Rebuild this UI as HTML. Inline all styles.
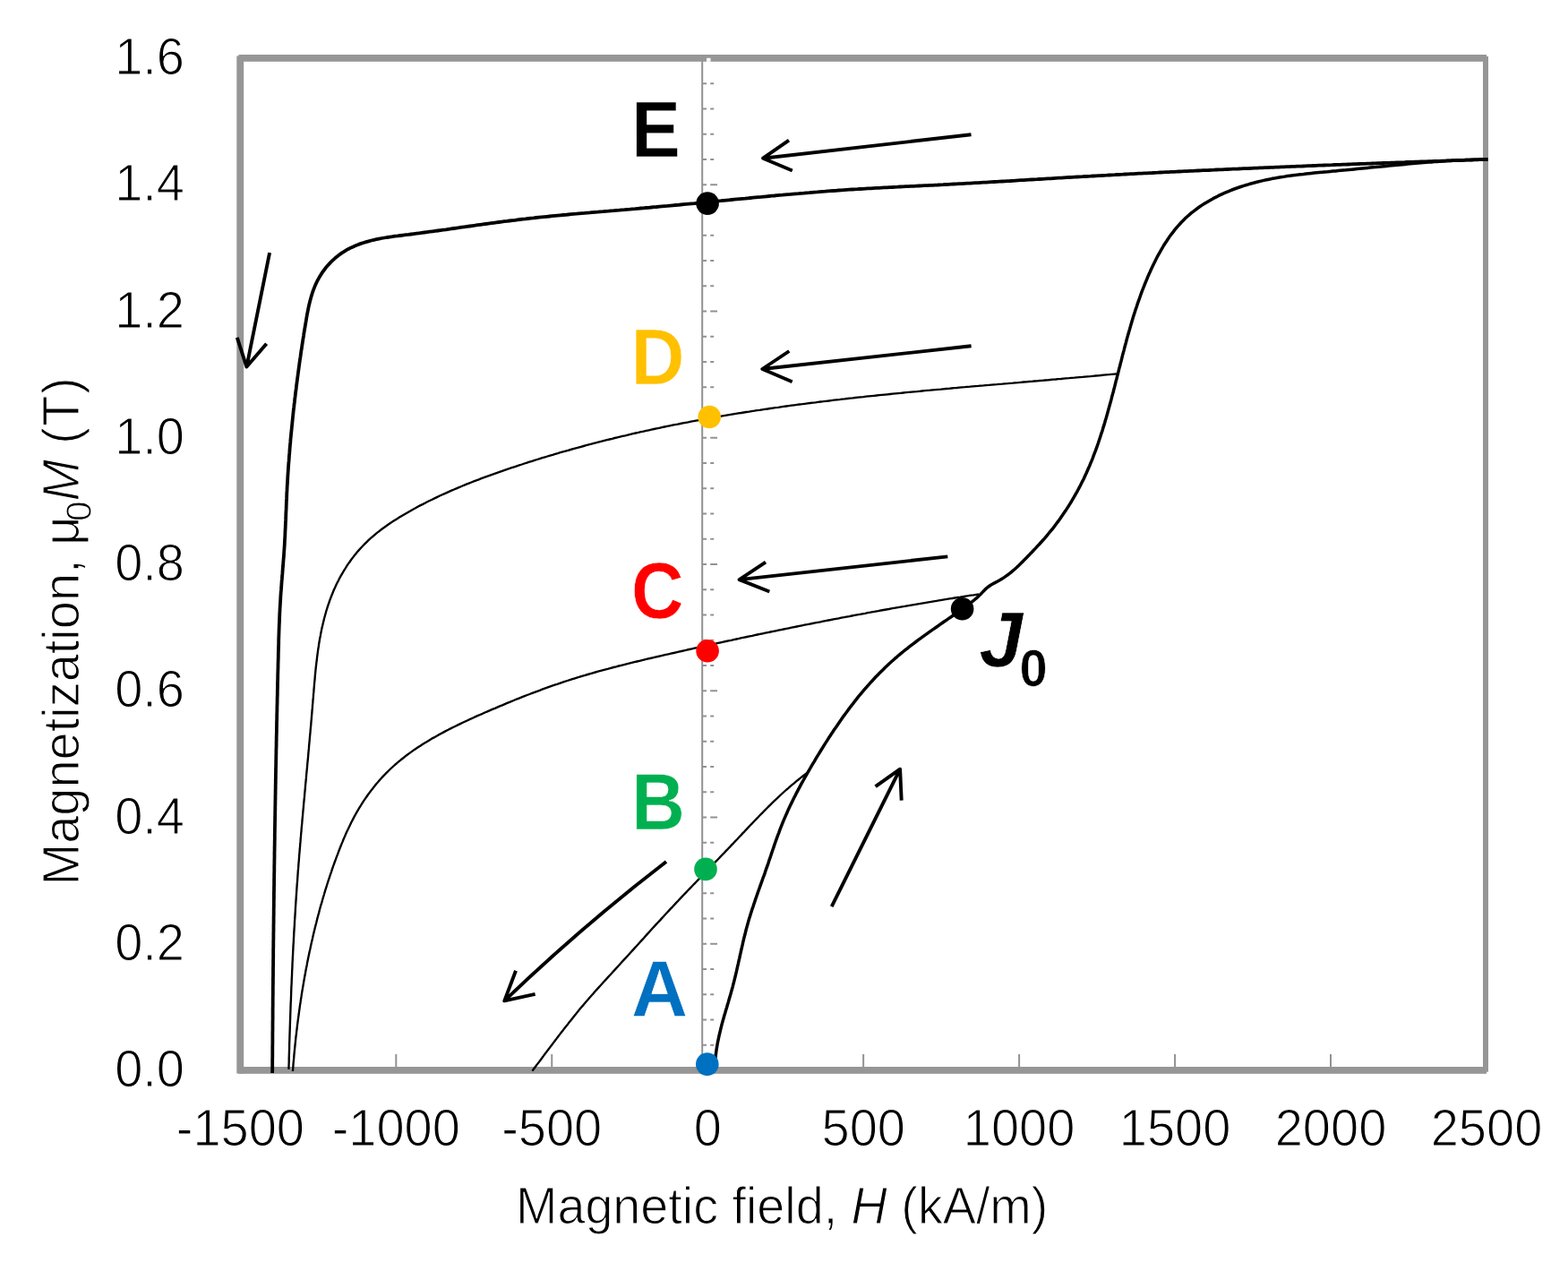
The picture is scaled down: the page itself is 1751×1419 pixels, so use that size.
<!DOCTYPE html>
<html><head><meta charset="utf-8"><title>Magnetization curves</title>
<style>
html,body{margin:0;padding:0;background:#fff;}
body{width:1751px;height:1419px;overflow:hidden;}
svg{display:block;}
text{font-family:"Liberation Sans",Arial,sans-serif;}
.t{stroke:#fff;stroke-width:1.1px;}
.b{stroke:#fff;stroke-width:0.6px;}
</style></head><body>
<svg width="1751" height="1419" viewBox="0 0 1751 1419">
<rect x="0" y="0" width="1751" height="1419" fill="#fff"/>

<line x1="784.2" y1="68" x2="784.2" y2="1191" stroke="#929292" stroke-width="2"/>
<path d="M785,1166.75H789M793.2,1166.75H797.2M785,1138.50H789M793.2,1138.50H797.2M785,1110.25H789M793.2,1110.25H797.2M785,1082.00H789M793.2,1082.00H797.2M785,1053.75H789M793.2,1053.75H801M785,1025.50H789M793.2,1025.50H797.2M785,997.25H789M793.2,997.25H797.2M785,969.00H789M793.2,969.00H797.2M785,940.75H789M793.2,940.75H797.2M785,912.50H789M793.2,912.50H801M785,884.25H789M793.2,884.25H797.2M785,856.00H789M793.2,856.00H797.2M785,827.75H789M793.2,827.75H797.2M785,799.50H789M793.2,799.50H797.2M785,771.25H789M793.2,771.25H801M785,743.00H789M793.2,743.00H797.2M785,714.75H789M793.2,714.75H797.2M785,686.50H789M793.2,686.50H797.2M785,658.25H789M793.2,658.25H797.2M785,630.00H789M793.2,630.00H801M785,601.75H789M793.2,601.75H797.2M785,573.50H789M793.2,573.50H797.2M785,545.25H789M793.2,545.25H797.2M785,517.00H789M793.2,517.00H797.2M785,488.75H789M793.2,488.75H801M785,460.50H789M793.2,460.50H797.2M785,432.25H789M793.2,432.25H797.2M785,404.00H789M793.2,404.00H797.2M785,375.75H789M793.2,375.75H797.2M785,347.50H789M793.2,347.50H801M785,319.25H789M793.2,319.25H797.2M785,291.00H789M793.2,291.00H797.2M785,262.75H789M793.2,262.75H797.2M785,234.50H789M793.2,234.50H797.2M785,206.25H789M793.2,206.25H801M785,178.00H789M793.2,178.00H797.2M785,149.75H789M793.2,149.75H797.2M785,121.50H789M793.2,121.50H797.2M785,93.25H789M793.2,93.25H797.2" stroke="#929292" stroke-width="2" fill="none"/>
<path d="M442.30,1177V1192M616.25,1177V1192M964.15,1177V1192M1138.10,1177V1192M1312.05,1177V1192M1486.00,1177V1192" stroke="#929292" stroke-width="2" fill="none"/>
<rect x="266.5" y="61" width="1393.5" height="7.8" fill="#969696"/>
<rect x="264.3" y="62.5" width="7.9" height="1136" fill="#969696"/>
<rect x="266.5" y="1191" width="1393.5" height="7.8" fill="#969696"/>
<rect x="1656" y="63" width="6" height="1133.7" fill="#969696"/>
<rect x="789" y="64.8" width="4.5" height="4" fill="#fff"/>
<path d="M1661.5,177.9 L1658.5,178.0 L1655.5,178.1 L1652.5,178.2 L1649.5,178.3 L1646.5,178.4 L1643.5,178.5 L1640.5,178.6 L1637.5,178.7 L1634.5,178.8 L1631.5,178.9 L1628.5,179.0 L1625.5,179.1 L1622.5,179.2 L1619.5,179.3 L1616.5,179.4 L1613.5,179.6 L1610.5,179.7 L1607.5,179.8 L1604.5,179.9 L1601.5,180.0 L1598.5,180.1 L1595.5,180.2 L1592.5,180.3 L1589.5,180.4 L1586.6,180.5 L1583.6,180.6 L1580.6,180.7 L1577.6,180.8 L1574.6,180.9 L1571.6,181.0 L1568.6,181.2 L1565.6,181.3 L1562.6,181.4 L1559.6,181.5 L1556.6,181.6 L1553.6,181.7 L1550.6,181.8 L1547.6,181.9 L1544.6,182.0 L1541.6,182.1 L1538.6,182.2 L1535.6,182.4 L1532.6,182.5 L1529.6,182.6 L1526.6,182.7 L1523.6,182.8 L1520.6,182.9 L1517.6,183.0 L1514.6,183.1 L1511.6,183.2 L1508.6,183.4 L1505.6,183.5 L1502.6,183.6 L1499.6,183.7 L1496.6,183.8 L1493.6,183.9 L1490.6,184.0 L1487.6,184.2 L1484.6,184.3 L1481.6,184.4 L1478.6,184.5 L1475.6,184.6 L1472.6,184.7 L1469.6,184.9 L1466.6,185.0 L1463.6,185.1 L1460.6,185.2 L1457.6,185.3 L1454.6,185.5 L1451.6,185.6 L1448.6,185.7 L1445.7,185.8 L1442.7,185.9 L1439.7,186.1 L1436.7,186.2 L1433.7,186.3 L1430.7,186.4 L1427.7,186.6 L1424.7,186.7 L1421.7,186.8 L1418.7,186.9 L1415.7,187.1 L1412.7,187.2 L1409.7,187.3 L1406.7,187.4 L1403.7,187.6 L1400.7,187.7 L1397.7,187.8 L1394.7,188.0 L1391.7,188.1 L1388.7,188.2 L1385.7,188.3 L1382.7,188.5 L1379.7,188.6 L1376.7,188.7 L1373.7,188.9 L1370.7,189.0 L1367.7,189.1 L1364.7,189.3 L1361.7,189.4 L1358.7,189.5 L1355.7,189.7 L1352.7,189.8 L1349.7,190.0 L1346.7,190.1 L1343.7,190.2 L1340.7,190.4 L1337.8,190.5 L1334.8,190.6 L1331.8,190.8 L1328.8,190.9 L1325.8,191.1 L1322.8,191.2 L1319.8,191.4 L1316.8,191.5 L1313.8,191.6 L1310.8,191.8 L1307.8,191.9 L1304.8,192.1 L1301.8,192.2 L1298.8,192.4 L1295.8,192.5 L1292.8,192.7 L1289.8,192.8 L1286.8,193.0 L1283.8,193.1 L1280.8,193.3 L1277.8,193.4 L1274.8,193.6 L1271.8,193.7 L1268.8,193.9 L1265.8,194.1 L1262.8,194.2 L1259.9,194.4 L1256.9,194.5 L1253.9,194.7 L1250.9,194.8 L1247.9,195.0 L1244.9,195.2 L1241.9,195.3 L1238.9,195.5 L1235.9,195.7 L1232.9,195.8 L1229.9,196.0 L1226.9,196.1 L1223.9,196.3 L1220.9,196.5 L1217.9,196.7 L1214.9,196.8 L1211.9,197.0 L1208.9,197.2 L1205.9,197.3 L1203.0,197.5 L1200.0,197.7 L1197.0,197.9 L1194.0,198.0 L1191.0,198.2 L1188.0,198.4 L1185.0,198.6 L1182.0,198.7 L1179.0,198.9 L1176.0,199.1 L1173.0,199.3 L1170.0,199.4 L1167.0,199.6 L1164.0,199.8 L1161.0,200.0 L1158.0,200.2 L1155.0,200.3 L1152.1,200.5 L1149.1,200.7 L1146.1,200.9 L1143.1,201.1 L1140.1,201.2 L1137.1,201.4 L1134.1,201.6 L1131.1,201.8 L1128.1,202.0 L1125.1,202.1 L1122.1,202.3 L1119.1,202.5 L1116.1,202.7 L1113.1,202.9 L1110.1,203.0 L1107.1,203.2 L1104.2,203.4 L1101.2,203.6 L1098.2,203.7 L1095.2,203.9 L1092.2,204.1 L1089.2,204.2 L1086.2,204.4 L1083.2,204.6 L1080.2,204.7 L1077.2,204.9 L1074.2,205.1 L1071.2,205.2 L1068.2,205.4 L1065.2,205.5 L1062.2,205.7 L1059.2,205.9 L1056.2,206.0 L1053.2,206.2 L1050.2,206.3 L1047.2,206.5 L1044.2,206.6 L1041.3,206.8 L1038.3,206.9 L1035.3,207.1 L1032.3,207.2 L1029.3,207.4 L1026.3,207.5 L1023.3,207.6 L1020.3,207.8 L1017.3,207.9 L1014.3,208.1 L1011.3,208.2 L1008.3,208.4 L1005.3,208.5 L1002.3,208.7 L999.3,208.8 L996.3,209.0 L993.3,209.1 L990.3,209.3 L987.3,209.4 L984.3,209.6 L981.3,209.8 L978.3,209.9 L975.3,210.1 L972.3,210.3 L969.3,210.4 L966.4,210.6 L963.4,210.8 L960.4,211.0 L957.4,211.2 L954.4,211.3 L951.4,211.5 L948.4,211.7 L945.4,211.9 L942.4,212.1 L939.4,212.3 L936.4,212.5 L933.4,212.8 L930.5,213.0 L927.5,213.2 L924.5,213.4 L921.5,213.7 L918.5,213.9 L915.5,214.1 L912.5,214.4 L909.5,214.6 L906.5,214.8 L903.6,215.1 L900.6,215.3 L897.6,215.6 L894.6,215.8 L891.6,216.1 L888.6,216.3 L885.6,216.6 L882.6,216.9 L879.7,217.1 L876.7,217.4 L873.7,217.7 L870.7,217.9 L867.7,218.2 L864.7,218.5 L861.7,218.7 L858.8,219.0 L855.8,219.3 L852.8,219.6 L849.8,219.9 L846.8,220.1 L843.8,220.4 L840.8,220.7 L837.9,221.0 L834.9,221.3 L831.9,221.6 L828.9,221.8 L825.9,222.1 L822.9,222.4 L819.9,222.7 L817.0,223.0 L814.0,223.3 L811.0,223.6 L808.0,223.9 L805.0,224.2 L802.0,224.4 L799.1,224.7 L796.1,225.0 L793.1,225.3 L790.1,225.6 L787.1,225.9 L784.1,226.2 L781.1,226.5 L778.2,226.8 L775.2,227.1 L772.2,227.3 L769.2,227.6 L766.2,227.9 L763.2,228.2 L760.2,228.5 L757.2,228.8 L754.3,229.0 L751.3,229.3 L748.3,229.6 L745.3,229.9 L742.3,230.1 L739.3,230.4 L736.3,230.7 L733.3,231.0 L730.3,231.2 L727.4,231.5 L724.4,231.8 L721.4,232.0 L718.4,232.3 L715.4,232.5 L712.4,232.8 L709.4,233.1 L706.4,233.3 L703.4,233.6 L700.4,233.8 L697.4,234.1 L694.5,234.3 L691.5,234.6 L688.5,234.8 L685.5,235.1 L682.5,235.3 L679.5,235.6 L676.5,235.8 L673.5,236.1 L670.5,236.3 L667.5,236.6 L664.5,236.8 L661.5,237.1 L658.6,237.4 L655.6,237.6 L652.6,237.9 L649.6,238.1 L646.6,238.4 L643.6,238.7 L640.6,238.9 L637.6,239.2 L634.6,239.5 L631.7,239.8 L628.7,240.0 L625.7,240.3 L622.7,240.6 L619.7,240.9 L616.7,241.2 L613.8,241.5 L610.8,241.8 L607.8,242.1 L604.8,242.4 L601.8,242.7 L598.8,243.0 L595.9,243.4 L592.9,243.7 L589.9,244.0 L586.9,244.4 L584.0,244.7 L581.0,245.0 L578.0,245.4 L575.1,245.8 L572.1,246.1 L569.1,246.5 L566.1,246.9 L563.2,247.2 L560.2,247.6 L557.2,248.0 L554.3,248.4 L551.3,248.8 L548.3,249.2 L545.4,249.6 L542.4,250.0 L539.4,250.4 L536.5,250.8 L533.5,251.2 L530.5,251.7 L527.6,252.1 L524.6,252.5 L521.6,252.9 L518.7,253.3 L515.7,253.7 L512.7,254.2 L509.8,254.6 L506.8,255.0 L503.8,255.4 L500.9,255.8 L497.9,256.3 L494.9,256.7 L491.9,257.1 L489.0,257.5 L486.0,257.9 L483.0,258.3 L480.0,258.7 L477.0,259.1 L474.0,259.5 L471.1,259.9 L468.1,260.3 L465.1,260.7 L462.1,261.1 L459.1,261.5 L456.1,261.9 L453.1,262.2 L450.1,262.6 L447.1,263.0 L444.1,263.4 L441.1,263.7 L438.1,264.2 L435.1,264.6 L432.2,265.0 L429.2,265.5 L426.2,266.0 L423.3,266.6 L420.4,267.2 L417.5,267.8 L414.6,268.5 L411.7,269.3 L408.8,270.1 L406.0,271.0 L403.2,271.9 L400.4,272.9 L397.6,274.0 L394.9,275.2 L392.2,276.4 L389.5,277.8 L386.9,279.2 L384.3,280.8 L381.8,282.4 L379.4,284.1 L377.0,285.9 L374.6,287.8 L372.4,289.8 L370.2,291.9 L368.1,294.1 L366.1,296.3 L364.1,298.6 L362.3,301.0 L360.5,303.4 L358.8,305.9 L357.2,308.5 L355.7,311.1 L354.3,313.7 L353.0,316.4 L351.8,319.1 L350.7,321.9 L349.6,324.7 L348.7,327.5 L347.8,330.3 L347.0,333.2 L346.2,336.1 L345.5,339.0 L344.8,341.9 L344.2,344.9 L343.6,347.8 L343.0,350.8 L342.5,353.7 L342.0,356.7 L341.5,359.7 L341.0,362.6 L340.5,365.6 L340.0,368.6 L339.5,371.5 L339.1,374.5 L338.6,377.5 L338.1,380.5 L337.7,383.4 L337.2,386.4 L336.8,389.4 L336.3,392.3 L335.9,395.3 L335.5,398.2 L335.0,401.2 L334.6,404.2 L334.2,407.1 L333.8,410.1 L333.4,413.1 L333.0,416.0 L332.6,419.0 L332.2,422.0 L331.8,425.0 L331.4,427.9 L331.0,430.9 L330.7,433.9 L330.3,436.8 L329.9,439.8 L329.6,442.8 L329.2,445.8 L328.9,448.7 L328.5,451.7 L328.2,454.7 L327.8,457.7 L327.5,460.7 L327.2,463.6 L326.9,466.6 L326.6,469.6 L326.3,472.6 L326.0,475.6 L325.7,478.6 L325.4,481.5 L325.1,484.5 L324.8,487.5 L324.5,490.5 L324.3,493.5 L324.0,496.5 L323.7,499.5 L323.5,502.5 L323.3,505.5 L323.0,508.5 L322.8,511.5 L322.6,514.5 L322.3,517.4 L322.1,520.4 L321.9,523.4 L321.7,526.4 L321.5,529.4 L321.3,532.4 L321.2,535.4 L321.0,538.4 L320.8,541.4 L320.6,544.4 L320.5,547.4 L320.3,550.4 L320.2,553.4 L320.1,556.4 L319.9,559.4 L319.8,562.4 L319.7,565.4 L319.6,568.4 L319.4,571.4 L319.3,574.4 L319.2,577.4 L319.1,580.4 L318.9,583.4 L318.8,586.4 L318.7,589.3 L318.5,592.3 L318.4,595.3 L318.3,598.3 L318.1,601.3 L317.9,604.3 L317.8,607.3 L317.6,610.3 L317.4,613.3 L317.2,616.3 L317.0,619.3 L316.8,622.3 L316.5,625.3 L316.3,628.3 L316.1,631.3 L315.8,634.2 L315.6,637.2 L315.4,640.2 L315.1,643.2 L314.9,646.2 L314.6,649.2 L314.4,652.2 L314.2,655.2 L314.0,658.2 L313.7,661.2 L313.5,664.2 L313.3,667.2 L313.2,670.2 L313.0,673.2 L312.8,676.1 L312.6,679.1 L312.5,682.1 L312.3,685.1 L312.2,688.1 L312.1,691.1 L312.0,694.1 L311.8,697.1 L311.7,700.1 L311.6,703.1 L311.5,706.1 L311.4,709.1 L311.3,712.1 L311.2,715.1 L311.2,718.1 L311.1,721.1 L311.0,724.1 L310.9,727.1 L310.8,730.1 L310.8,733.1 L310.7,736.1 L310.6,739.1 L310.5,742.1 L310.5,745.1 L310.4,748.1 L310.3,751.1 L310.2,754.1 L310.2,757.1 L310.1,760.1 L310.0,763.1 L310.0,766.1 L309.9,769.1 L309.8,772.1 L309.8,775.1 L309.7,778.1 L309.6,781.1 L309.6,784.1 L309.5,787.1 L309.4,790.1 L309.4,793.1 L309.3,796.1 L309.2,799.1 L309.2,802.1 L309.1,805.1 L309.0,808.1 L309.0,811.1 L308.9,814.0 L308.9,817.0 L308.8,820.0 L308.7,823.0 L308.7,826.0 L308.6,829.0 L308.6,832.0 L308.5,835.0 L308.4,838.0 L308.4,841.0 L308.3,844.0 L308.3,847.0 L308.2,850.0 L308.2,853.0 L308.1,856.0 L308.0,859.0 L308.0,862.0 L307.9,865.0 L307.9,868.0 L307.8,871.0 L307.8,874.0 L307.7,877.0 L307.7,880.0 L307.6,883.0 L307.6,886.0 L307.5,889.0 L307.5,892.0 L307.4,895.0 L307.4,898.0 L307.3,901.0 L307.3,904.0 L307.2,907.0 L307.2,910.0 L307.1,913.0 L307.1,916.0 L307.0,919.0 L307.0,922.0 L306.9,925.0 L306.9,928.0 L306.8,931.0 L306.8,934.0 L306.8,937.0 L306.7,940.0 L306.7,943.0 L306.6,946.0 L306.6,949.0 L306.5,952.0 L306.5,955.0 L306.5,958.0 L306.4,961.0 L306.4,964.0 L306.3,967.0 L306.3,970.0 L306.3,973.0 L306.2,976.0 L306.2,979.0 L306.1,982.0 L306.1,985.0 L306.1,988.0 L306.0,991.0 L306.0,994.0 L305.9,997.0 L305.9,1000.0 L305.9,1003.0 L305.8,1006.0 L305.8,1009.0 L305.8,1012.0 L305.7,1015.0 L305.7,1018.0 L305.7,1021.0 L305.6,1024.0 L305.6,1027.0 L305.6,1030.0 L305.5,1033.0 L305.5,1036.0 L305.5,1039.0 L305.4,1042.0 L305.4,1045.0 L305.4,1048.0 L305.3,1051.0 L305.3,1054.0 L305.3,1057.0 L305.2,1060.0 L305.2,1063.0 L305.2,1066.0 L305.2,1069.0 L305.1,1072.0 L305.1,1075.0 L305.1,1078.0 L305.0,1081.0 L305.0,1084.0 L305.0,1087.0 L305.0,1090.0 L304.9,1093.0 L304.9,1096.0 L304.9,1099.0 L304.8,1102.0 L304.8,1105.0 L304.8,1108.0 L304.8,1111.0 L304.7,1114.0 L304.7,1117.0 L304.7,1120.0 L304.7,1123.0 L304.6,1126.0 L304.6,1129.0 L304.6,1132.0 L304.6,1135.0 L304.6,1138.0 L304.5,1141.0 L304.5,1144.0 L304.5,1147.0 L304.5,1150.0 L304.4,1153.0 L304.4,1156.0 L304.4,1159.0 L304.4,1162.0 L304.4,1165.0 L304.3,1168.0 L304.3,1171.0 L304.3,1174.0 L304.3,1177.0 L304.3,1180.0 L304.2,1183.0 L304.2,1186.0 L304.2,1189.0 L304.2,1192.0 L304.2,1195.0 L304.1,1198.0" fill="none" stroke="#000" stroke-width="3.8" stroke-linejoin="round" stroke-linecap="butt"/>
<path d="M798.7,1186.1 L798.9,1183.0 L799.1,1180.0 L799.4,1177.0 L799.8,1174.0 L800.2,1171.1 L800.7,1168.1 L801.2,1165.2 L801.8,1162.2 L802.4,1159.3 L803.0,1156.4 L803.7,1153.5 L804.4,1150.6 L805.1,1147.7 L805.8,1144.8 L806.6,1141.9 L807.4,1139.0 L808.2,1136.1 L809.0,1133.3 L809.9,1130.4 L810.7,1127.5 L811.6,1124.7 L812.4,1121.8 L813.3,1118.9 L814.1,1116.0 L814.9,1113.2 L815.8,1110.3 L816.6,1107.4 L817.4,1104.5 L818.2,1101.6 L818.9,1098.7 L819.7,1095.8 L820.4,1092.9 L821.1,1090.0 L821.8,1087.1 L822.5,1084.2 L823.1,1081.3 L823.8,1078.3 L824.5,1075.4 L825.1,1072.5 L825.8,1069.6 L826.4,1066.6 L827.1,1063.7 L827.7,1060.8 L828.4,1057.9 L829.1,1054.9 L829.7,1052.0 L830.4,1049.1 L831.1,1046.2 L831.9,1043.3 L832.6,1040.4 L833.3,1037.5 L834.1,1034.6 L834.9,1031.8 L835.7,1028.9 L836.5,1026.0 L837.4,1023.2 L838.3,1020.3 L839.2,1017.5 L840.1,1014.6 L841.1,1011.8 L842.0,1009.0 L843.0,1006.1 L843.9,1003.3 L844.9,1000.5 L845.9,997.7 L846.9,994.8 L847.9,992.0 L848.9,989.2 L849.9,986.4 L850.9,983.6 L851.9,980.7 L853.0,977.9 L854.0,975.1 L854.9,972.3 L855.9,969.4 L856.9,966.6 L857.9,963.8 L858.8,960.9 L859.8,958.1 L860.8,955.2 L861.7,952.4 L862.7,949.5 L863.7,946.7 L864.6,943.9 L865.6,941.0 L866.6,938.2 L867.6,935.4 L868.6,932.6 L869.7,929.8 L870.7,927.0 L871.8,924.2 L872.9,921.4 L874.0,918.6 L875.1,915.9 L876.3,913.1 L877.5,910.4 L878.7,907.7 L879.9,904.9 L881.1,902.2 L882.4,899.5 L883.7,896.9 L885.0,894.2 L886.3,891.5 L887.7,888.9 L889.0,886.2 L890.4,883.6 L891.8,880.9 L893.2,878.3 L894.6,875.7 L896.0,873.1 L897.5,870.5 L898.9,867.9 L900.4,865.3 L901.9,862.7 L903.4,860.1 L904.9,857.5 L906.4,854.9 L907.9,852.4 L909.5,849.8 L911.0,847.2 L912.5,844.7 L914.1,842.1 L915.7,839.5 L917.2,837.0 L918.8,834.5 L920.4,831.9 L922.0,829.4 L923.6,826.9 L925.2,824.3 L926.9,821.8 L928.5,819.3 L930.2,816.8 L931.8,814.3 L933.5,811.9 L935.2,809.4 L936.9,806.9 L938.6,804.5 L940.3,802.0 L942.0,799.6 L943.8,797.2 L945.6,794.8 L947.3,792.4 L949.1,790.0 L950.9,787.6 L952.8,785.3 L954.6,782.9 L956.4,780.6 L958.3,778.2 L960.2,775.9 L962.1,773.6 L964.0,771.4 L965.9,769.1 L967.9,766.8 L969.9,764.6 L971.9,762.4 L973.9,760.2 L975.9,758.0 L977.9,755.8 L980.0,753.7 L982.1,751.6 L984.2,749.5 L986.3,747.4 L988.4,745.3 L990.6,743.2 L992.7,741.2 L994.9,739.2 L997.2,737.2 L999.4,735.2 L1001.7,733.3 L1004.0,731.3 L1006.3,729.4 L1008.6,727.5 L1010.9,725.6 L1013.3,723.8 L1015.6,721.9 L1018.0,720.1 L1020.4,718.3 L1022.8,716.5 L1025.2,714.7 L1027.7,712.9 L1030.1,711.1 L1032.5,709.4 L1035.0,707.6 L1037.4,705.9 L1039.9,704.1 L1042.4,702.4 L1044.8,700.7 L1047.3,699.0 L1049.8,697.2 L1052.2,695.5 L1054.7,693.8 L1057.2,692.1 L1059.6,690.4 L1062.1,688.7 L1064.5,687.0 L1067.0,685.3 L1069.4,683.6 L1071.9,681.9 L1074.3,680.2 L1076.7,678.5 L1079.1,676.7 L1081.5,675.0 L1083.8,673.2 L1086.1,671.4 L1088.4,669.5 L1090.6,667.6 L1092.8,665.6 L1095.0,663.5 L1097.0,661.4 L1099.1,659.2 L1101.2,657.1 L1103.5,655.2 L1105.9,653.5 L1108.4,652.0 L1111.0,650.6 L1113.7,649.2 L1116.3,647.8 L1118.9,646.2 L1121.4,644.6 L1123.8,642.9 L1126.2,641.2 L1128.6,639.3 L1130.9,637.4 L1133.1,635.5 L1135.3,633.5 L1137.5,631.4 L1139.7,629.3 L1141.8,627.2 L1143.9,625.1 L1146.0,623.0 L1148.1,620.8 L1150.2,618.6 L1152.3,616.5 L1154.3,614.3 L1156.4,612.1 L1158.4,609.9 L1160.5,607.7 L1162.5,605.5 L1164.5,603.3 L1166.5,601.1 L1168.4,598.8 L1170.3,596.5 L1172.2,594.2 L1174.1,591.9 L1176.0,589.6 L1177.8,587.2 L1179.6,584.8 L1181.4,582.4 L1183.2,580.0 L1184.9,577.5 L1186.6,575.1 L1188.3,572.6 L1190.0,570.1 L1191.6,567.6 L1193.2,565.1 L1194.8,562.6 L1196.4,560.0 L1197.9,557.4 L1199.4,554.8 L1200.9,552.2 L1202.4,549.6 L1203.8,547.0 L1205.2,544.4 L1206.6,541.7 L1207.9,539.0 L1209.3,536.4 L1210.6,533.7 L1211.8,531.0 L1213.1,528.3 L1214.3,525.5 L1215.5,522.8 L1216.7,520.1 L1217.8,517.3 L1219.0,514.6 L1220.1,511.8 L1221.1,509.0 L1222.2,506.2 L1223.3,503.4 L1224.3,500.6 L1225.3,497.8 L1226.3,495.0 L1227.2,492.2 L1228.2,489.3 L1229.1,486.5 L1230.0,483.6 L1231.0,480.8 L1231.8,477.9 L1232.7,475.1 L1233.6,472.2 L1234.4,469.3 L1235.3,466.5 L1236.1,463.6 L1236.9,460.7 L1237.7,457.8 L1238.5,454.9 L1239.3,452.0 L1240.1,449.1 L1240.9,446.2 L1241.6,443.3 L1242.4,440.4 L1243.2,437.5 L1243.9,434.6 L1244.7,431.7 L1245.4,428.8 L1246.1,425.9 L1246.9,423.0 L1247.6,420.1 L1248.4,417.2 L1249.1,414.3 L1249.8,411.4 L1250.6,408.5 L1251.3,405.6 L1252.1,402.7 L1252.8,399.8 L1253.5,396.9 L1254.3,394.0 L1255.1,391.1 L1255.8,388.2 L1256.6,385.3 L1257.4,382.4 L1258.1,379.5 L1258.9,376.6 L1259.7,373.7 L1260.5,370.9 L1261.4,368.0 L1262.2,365.1 L1263.0,362.2 L1263.9,359.4 L1264.7,356.5 L1265.6,353.6 L1266.5,350.8 L1267.4,348.0 L1268.3,345.1 L1269.3,342.3 L1270.2,339.4 L1271.2,336.6 L1272.2,333.8 L1273.2,331.0 L1274.2,328.2 L1275.2,325.4 L1276.3,322.6 L1277.4,319.8 L1278.5,317.0 L1279.6,314.3 L1280.8,311.5 L1281.9,308.7 L1283.1,306.0 L1284.4,303.3 L1285.6,300.5 L1286.9,297.8 L1288.2,295.1 L1289.5,292.4 L1290.8,289.7 L1292.2,287.0 L1293.6,284.4 L1295.1,281.8 L1296.6,279.2 L1298.1,276.6 L1299.6,274.0 L1301.2,271.5 L1302.9,269.0 L1304.5,266.5 L1306.2,264.1 L1308.0,261.6 L1309.8,259.3 L1311.6,256.9 L1313.5,254.6 L1315.4,252.4 L1317.4,250.2 L1319.4,248.0 L1321.5,245.9 L1323.6,243.8 L1325.8,241.8 L1328.0,239.9 L1330.2,237.9 L1332.6,236.1 L1334.9,234.3 L1337.3,232.5 L1339.7,230.8 L1342.2,229.1 L1344.7,227.5 L1347.3,225.9 L1349.9,224.4 L1352.5,222.9 L1355.1,221.4 L1357.8,220.1 L1360.5,218.7 L1363.2,217.4 L1365.9,216.1 L1368.7,214.9 L1371.4,213.8 L1374.2,212.6 L1377.0,211.5 L1379.8,210.5 L1382.6,209.5 L1385.5,208.5 L1388.3,207.6 L1391.1,206.7 L1394.0,205.9 L1396.9,205.0 L1399.7,204.3 L1402.6,203.5 L1405.5,202.8 L1408.4,202.1 L1411.3,201.4 L1414.2,200.8 L1417.1,200.2 L1420.0,199.6 L1423.0,199.1 L1425.9,198.5 L1428.8,198.0 L1431.8,197.6 L1434.7,197.1 L1437.7,196.6 L1440.7,196.2 L1443.6,195.8 L1446.6,195.4 L1449.6,195.1 L1452.5,194.7 L1455.5,194.4 L1458.5,194.0 L1461.5,193.7 L1464.5,193.4 L1467.4,193.1 L1470.4,192.8 L1473.4,192.5 L1476.4,192.2 L1479.4,191.9 L1482.4,191.7 L1485.4,191.4 L1488.4,191.1 L1491.4,190.9 L1494.4,190.6 L1497.4,190.3 L1500.3,190.0 L1503.3,189.8 L1506.3,189.5 L1509.3,189.2 L1512.3,188.9 L1515.3,188.6 L1518.3,188.3 L1521.2,188.0 L1524.2,187.7 L1527.2,187.4 L1530.2,187.1 L1533.2,186.8 L1536.1,186.6 L1539.1,186.3 L1542.1,186.0 L1545.1,185.7 L1548.0,185.4 L1551.0,185.1 L1554.0,184.8 L1557.0,184.5 L1559.9,184.2 L1562.9,183.9 L1565.9,183.7 L1568.9,183.4 L1571.8,183.1 L1574.8,182.8 L1577.8,182.6 L1580.8,182.3 L1583.8,182.1 L1586.7,181.8 L1589.7,181.6 L1592.7,181.3 L1595.7,181.1 L1598.6,180.9 L1601.6,180.6 L1604.6,180.4 L1607.6,180.2 L1610.6,180.0 L1613.6,179.8 L1616.6,179.6 L1619.5,179.5 L1622.5,179.3 L1625.5,179.1 L1628.5,179.0 L1631.5,178.9 L1634.5,178.7 L1637.5,178.6 L1640.5,178.5 L1643.5,178.4 L1646.5,178.3 L1649.5,178.2 L1652.5,178.2 L1655.5,178.1 L1658.5,178.1 L1661.5,178.0" fill="none" stroke="#000" stroke-width="3.5" stroke-linejoin="round" stroke-linecap="butt"/>
<path d="M1247.5,417.3 L1244.5,417.6 L1241.5,417.9 L1238.5,418.2 L1235.6,418.4 L1232.6,418.7 L1229.6,419.0 L1226.6,419.3 L1223.6,419.5 L1220.7,419.8 L1217.7,420.1 L1214.7,420.3 L1211.7,420.6 L1208.7,420.9 L1205.8,421.1 L1202.8,421.4 L1199.8,421.7 L1196.8,421.9 L1193.8,422.2 L1190.8,422.4 L1187.9,422.7 L1184.9,423.0 L1181.9,423.2 L1178.9,423.5 L1175.9,423.7 L1172.9,424.0 L1170.0,424.3 L1167.0,424.5 L1164.0,424.8 L1161.0,425.0 L1158.0,425.3 L1155.0,425.5 L1152.0,425.8 L1149.1,426.0 L1146.1,426.3 L1143.1,426.5 L1140.1,426.8 L1137.1,427.1 L1134.1,427.3 L1131.1,427.6 L1128.2,427.8 L1125.2,428.1 L1122.2,428.3 L1119.2,428.6 L1116.2,428.8 L1113.2,429.1 L1110.2,429.3 L1107.3,429.6 L1104.3,429.9 L1101.3,430.1 L1098.3,430.4 L1095.3,430.6 L1092.3,430.9 L1089.3,431.1 L1086.4,431.4 L1083.4,431.7 L1080.4,431.9 L1077.4,432.2 L1074.4,432.4 L1071.4,432.7 L1068.4,433.0 L1065.5,433.2 L1062.5,433.5 L1059.5,433.8 L1056.5,434.0 L1053.5,434.3 L1050.5,434.6 L1047.6,434.8 L1044.6,435.1 L1041.6,435.4 L1038.6,435.7 L1035.6,435.9 L1032.6,436.2 L1029.6,436.5 L1026.7,436.8 L1023.7,437.1 L1020.7,437.3 L1017.7,437.6 L1014.7,437.9 L1011.7,438.2 L1008.8,438.5 L1005.8,438.8 L1002.8,439.1 L999.8,439.4 L996.8,439.7 L993.9,440.0 L990.9,440.3 L987.9,440.6 L984.9,440.9 L981.9,441.2 L979.0,441.5 L976.0,441.8 L973.0,442.1 L970.0,442.4 L967.0,442.7 L964.1,443.1 L961.1,443.4 L958.1,443.7 L955.1,444.0 L952.2,444.4 L949.2,444.7 L946.2,445.0 L943.2,445.4 L940.2,445.7 L937.3,446.1 L934.3,446.4 L931.3,446.7 L928.4,447.1 L925.4,447.5 L922.4,447.8 L919.4,448.2 L916.5,448.5 L913.5,448.9 L910.5,449.3 L907.5,449.6 L904.6,450.0 L901.6,450.4 L898.6,450.8 L895.7,451.2 L892.7,451.5 L889.7,451.9 L886.8,452.3 L883.8,452.7 L880.8,453.1 L877.9,453.5 L874.9,453.9 L871.9,454.3 L869.0,454.8 L866.0,455.2 L863.0,455.6 L860.1,456.0 L857.1,456.5 L854.1,456.9 L851.2,457.3 L848.2,457.8 L845.3,458.2 L842.3,458.7 L839.3,459.1 L836.4,459.6 L833.4,460.0 L830.5,460.5 L827.5,461.0 L824.6,461.4 L821.6,461.9 L818.7,462.4 L815.7,462.9 L812.7,463.4 L809.8,463.9 L806.8,464.4 L803.9,464.9 L800.9,465.4 L798.0,465.9 L795.0,466.4 L792.1,466.9 L789.1,467.4 L786.2,468.0 L783.2,468.5 L780.3,469.1 L777.4,469.6 L774.4,470.2 L771.5,470.7 L768.5,471.3 L765.6,471.8 L762.6,472.4 L759.7,473.0 L756.8,473.6 L753.8,474.1 L750.9,474.7 L747.9,475.3 L745.0,475.9 L742.1,476.5 L739.1,477.1 L736.2,477.8 L733.3,478.4 L730.3,479.0 L727.4,479.6 L724.5,480.3 L721.6,480.9 L718.6,481.6 L715.7,482.2 L712.8,482.9 L709.9,483.5 L706.9,484.2 L704.0,484.9 L701.1,485.6 L698.2,486.3 L695.3,486.9 L692.3,487.6 L689.4,488.3 L686.5,489.0 L683.6,489.8 L680.7,490.5 L677.8,491.2 L674.9,491.9 L672.0,492.7 L669.1,493.4 L666.2,494.2 L663.3,494.9 L660.4,495.7 L657.5,496.4 L654.6,497.2 L651.7,498.0 L648.8,498.8 L645.9,499.6 L643.0,500.4 L640.1,501.2 L637.2,502.0 L634.4,502.8 L631.5,503.6 L628.6,504.4 L625.7,505.2 L622.8,506.1 L620.0,506.9 L617.1,507.8 L614.2,508.6 L611.3,509.5 L608.5,510.4 L605.6,511.2 L602.7,512.1 L599.9,513.0 L597.0,513.9 L594.2,514.8 L591.3,515.7 L588.5,516.6 L585.6,517.5 L582.8,518.5 L579.9,519.4 L577.1,520.3 L574.2,521.3 L571.4,522.2 L568.6,523.2 L565.7,524.1 L562.9,525.1 L560.1,526.1 L557.2,527.1 L554.4,528.1 L551.6,529.1 L548.8,530.1 L546.0,531.1 L543.1,532.1 L540.3,533.2 L537.5,534.2 L534.7,535.3 L531.9,536.3 L529.1,537.4 L526.4,538.5 L523.6,539.6 L520.8,540.7 L518.0,541.8 L515.3,543.0 L512.5,544.1 L509.7,545.3 L507.0,546.5 L504.2,547.7 L501.5,548.9 L498.8,550.1 L496.0,551.3 L493.3,552.5 L490.6,553.8 L487.9,555.1 L485.2,556.4 L482.5,557.7 L479.8,559.0 L477.1,560.3 L474.5,561.7 L471.8,563.1 L469.1,564.4 L466.5,565.8 L463.9,567.3 L461.2,568.7 L458.6,570.2 L456.0,571.7 L453.4,573.2 L450.8,574.7 L448.2,576.2 L445.6,577.8 L443.1,579.4 L440.5,581.0 L438.0,582.6 L435.5,584.3 L433.0,586.0 L430.6,587.7 L428.1,589.5 L425.7,591.3 L423.4,593.1 L421.0,594.9 L418.7,596.8 L416.4,598.8 L414.2,600.7 L412.0,602.7 L409.8,604.8 L407.7,606.9 L405.6,609.0 L403.5,611.2 L401.5,613.4 L399.5,615.6 L397.6,617.9 L395.7,620.3 L393.9,622.6 L392.1,625.0 L390.4,627.5 L388.6,629.9 L387.0,632.4 L385.4,635.0 L383.8,637.5 L382.3,640.1 L380.8,642.7 L379.3,645.3 L378.0,648.0 L376.6,650.6 L375.3,653.3 L374.1,656.0 L372.8,658.7 L371.7,661.5 L370.6,664.2 L369.5,667.0 L368.5,669.7 L367.5,672.5 L366.5,675.3 L365.6,678.2 L364.7,681.0 L363.9,683.8 L363.1,686.7 L362.3,689.5 L361.6,692.4 L360.9,695.3 L360.2,698.2 L359.5,701.1 L358.9,704.0 L358.3,706.9 L357.8,709.9 L357.2,712.8 L356.7,715.7 L356.2,718.7 L355.8,721.7 L355.3,724.6 L354.9,727.6 L354.5,730.6 L354.1,733.6 L353.8,736.6 L353.4,739.5 L353.1,742.5 L352.7,745.5 L352.4,748.6 L352.1,751.6 L351.8,754.6 L351.6,757.6 L351.3,760.6 L351.0,763.6 L350.8,766.6 L350.5,769.6 L350.3,772.7 L350.0,775.7 L349.8,778.7 L349.5,781.7 L349.3,784.7 L349.0,787.7 L348.8,790.7 L348.5,793.8 L348.3,796.8 L348.0,799.8 L347.8,802.8 L347.5,805.8 L347.3,808.8 L347.0,811.8 L346.7,814.8 L346.5,817.7 L346.2,820.7 L345.9,823.7 L345.7,826.7 L345.4,829.7 L345.1,832.7 L344.9,835.7 L344.6,838.6 L344.3,841.6 L344.1,844.6 L343.8,847.6 L343.5,850.6 L343.2,853.5 L343.0,856.5 L342.7,859.5 L342.4,862.5 L342.1,865.4 L341.9,868.4 L341.6,871.4 L341.3,874.4 L341.0,877.3 L340.8,880.3 L340.5,883.3 L340.2,886.2 L340.0,889.2 L339.7,892.2 L339.4,895.1 L339.1,898.1 L338.9,901.1 L338.6,904.0 L338.3,907.0 L338.1,910.0 L337.8,912.9 L337.5,915.9 L337.3,918.9 L337.0,921.8 L336.7,924.8 L336.5,927.8 L336.2,930.8 L336.0,933.7 L335.7,936.7 L335.5,939.7 L335.2,942.6 L335.0,945.6 L334.7,948.6 L334.5,951.6 L334.2,954.5 L334.0,957.5 L333.8,960.5 L333.5,963.5 L333.3,966.4 L333.1,969.4 L332.8,972.4 L332.6,975.4 L332.4,978.4 L332.2,981.4 L332.0,984.3 L331.7,987.3 L331.5,990.3 L331.3,993.3 L331.1,996.3 L330.9,999.3 L330.7,1002.3 L330.5,1005.3 L330.3,1008.3 L330.1,1011.3 L329.9,1014.3 L329.8,1017.3 L329.6,1020.3 L329.4,1023.3 L329.2,1026.3 L329.0,1029.3 L328.9,1032.3 L328.7,1035.3 L328.5,1038.3 L328.3,1041.3 L328.2,1044.3 L328.0,1047.3 L327.9,1050.3 L327.7,1053.3 L327.5,1056.3 L327.4,1059.3 L327.2,1062.3 L327.1,1065.3 L326.9,1068.3 L326.8,1071.3 L326.6,1074.3 L326.5,1077.3 L326.4,1080.3 L326.2,1083.3 L326.1,1086.3 L326.0,1089.3 L325.8,1092.3 L325.7,1095.3 L325.6,1098.3 L325.4,1101.3 L325.3,1104.3 L325.2,1107.3 L325.1,1110.3 L325.0,1113.3 L324.9,1116.3 L324.7,1119.3 L324.6,1122.3 L324.5,1125.3 L324.4,1128.3 L324.3,1131.3 L324.2,1134.3 L324.1,1137.3 L324.0,1140.3 L323.9,1143.3 L323.8,1146.3 L323.7,1149.2 L323.6,1152.2 L323.5,1155.2 L323.4,1158.2 L323.3,1161.2 L323.2,1164.2 L323.1,1167.1 L323.1,1170.1 L323.0,1173.1 L322.9,1176.1 L322.8,1179.1 L322.7,1182.0 L322.7,1185.0 L322.6,1188.0 L322.5,1190.9 L322.4,1193.9" fill="none" stroke="#000" stroke-width="2.35" stroke-linejoin="round"/>
<path d="M1093.0,663.4 L1090.1,663.8 L1087.1,664.3 L1084.1,664.7 L1081.2,665.2 L1078.2,665.6 L1075.2,666.1 L1072.3,666.6 L1069.3,667.0 L1066.4,667.5 L1063.4,668.0 L1060.4,668.4 L1057.5,668.9 L1054.5,669.4 L1051.6,669.9 L1048.6,670.4 L1045.7,670.9 L1042.7,671.3 L1039.8,671.8 L1036.8,672.3 L1033.9,672.8 L1030.9,673.3 L1028.0,673.8 L1025.0,674.3 L1022.1,674.8 L1019.1,675.3 L1016.2,675.8 L1013.2,676.3 L1010.3,676.9 L1007.3,677.4 L1004.4,677.9 L1001.4,678.4 L998.5,678.9 L995.5,679.4 L992.6,680.0 L989.6,680.5 L986.7,681.0 L983.7,681.5 L980.8,682.1 L977.9,682.6 L974.9,683.1 L972.0,683.7 L969.0,684.2 L966.1,684.8 L963.1,685.3 L960.2,685.9 L957.3,686.4 L954.3,686.9 L951.4,687.5 L948.5,688.1 L945.5,688.6 L942.6,689.2 L939.6,689.7 L936.7,690.3 L933.8,690.8 L930.8,691.4 L927.9,692.0 L925.0,692.5 L922.0,693.1 L919.1,693.7 L916.2,694.3 L913.2,694.8 L910.3,695.4 L907.3,696.0 L904.4,696.6 L901.5,697.2 L898.5,697.7 L895.6,698.3 L892.7,698.9 L889.8,699.5 L886.8,700.1 L883.9,700.7 L881.0,701.3 L878.0,701.9 L875.1,702.5 L872.2,703.1 L869.2,703.7 L866.3,704.3 L863.4,704.9 L860.4,705.5 L857.5,706.1 L854.6,706.7 L851.7,707.3 L848.7,707.9 L845.8,708.5 L842.9,709.1 L839.9,709.8 L837.0,710.4 L834.1,711.0 L831.2,711.6 L828.2,712.2 L825.3,712.9 L822.4,713.5 L819.5,714.1 L816.5,714.8 L813.6,715.4 L810.7,716.0 L807.7,716.7 L804.8,717.3 L801.9,717.9 L799.0,718.6 L796.0,719.2 L793.1,719.8 L790.2,720.5 L787.3,721.1 L784.3,721.8 L781.4,722.4 L778.5,723.1 L775.6,723.7 L772.6,724.4 L769.7,725.0 L766.8,725.7 L763.9,726.3 L760.9,727.0 L758.0,727.6 L755.1,728.3 L752.2,729.0 L749.2,729.6 L746.3,730.3 L743.4,730.9 L740.5,731.6 L737.5,732.3 L734.6,733.0 L731.7,733.6 L728.8,734.3 L725.9,735.0 L722.9,735.7 L720.0,736.4 L717.1,737.1 L714.2,737.8 L711.3,738.5 L708.4,739.2 L705.5,739.9 L702.5,740.6 L699.6,741.3 L696.7,742.1 L693.8,742.8 L690.9,743.5 L688.0,744.3 L685.1,745.0 L682.2,745.8 L679.3,746.6 L676.5,747.3 L673.6,748.1 L670.7,748.9 L667.8,749.7 L664.9,750.5 L662.1,751.3 L659.2,752.2 L656.3,753.0 L653.5,753.8 L650.6,754.7 L647.7,755.5 L644.9,756.4 L642.0,757.3 L639.2,758.2 L636.3,759.1 L633.5,760.0 L630.7,760.9 L627.8,761.9 L625.0,762.8 L622.2,763.8 L619.4,764.7 L616.6,765.7 L613.8,766.7 L611.0,767.7 L608.2,768.7 L605.4,769.7 L602.6,770.8 L599.8,771.8 L597.0,772.8 L594.2,773.9 L591.4,775.0 L588.6,776.0 L585.8,777.1 L583.1,778.2 L580.3,779.3 L577.5,780.4 L574.7,781.5 L572.0,782.7 L569.2,783.8 L566.4,784.9 L563.7,786.1 L560.9,787.3 L558.1,788.4 L555.4,789.6 L552.6,790.8 L549.8,791.9 L547.1,793.1 L544.3,794.3 L541.5,795.5 L538.8,796.8 L536.0,798.0 L533.2,799.2 L530.5,800.4 L527.7,801.7 L525.0,802.9 L522.2,804.2 L519.5,805.5 L516.7,806.8 L514.0,808.1 L511.3,809.4 L508.6,810.7 L505.9,812.0 L503.2,813.4 L500.5,814.8 L497.8,816.1 L495.1,817.6 L492.5,819.0 L489.8,820.4 L487.2,821.9 L484.6,823.4 L482.0,824.8 L479.4,826.4 L476.9,827.9 L474.3,829.5 L471.8,831.1 L469.3,832.7 L466.8,834.3 L464.3,836.0 L461.9,837.6 L459.4,839.4 L457.0,841.1 L454.7,842.8 L452.3,844.6 L450.0,846.5 L447.7,848.3 L445.4,850.2 L443.1,852.1 L440.9,854.0 L438.7,856.0 L436.5,858.0 L434.4,860.0 L432.3,862.1 L430.2,864.2 L428.1,866.4 L426.1,868.5 L424.1,870.7 L422.2,873.0 L420.2,875.2 L418.4,877.5 L416.5,879.9 L414.7,882.2 L412.9,884.6 L411.1,887.0 L409.4,889.5 L407.7,891.9 L406.0,894.4 L404.4,896.9 L402.8,899.5 L401.2,902.0 L399.7,904.6 L398.2,907.2 L396.7,909.8 L395.3,912.4 L393.9,915.1 L392.5,917.8 L391.2,920.5 L389.9,923.2 L388.6,925.9 L387.3,928.6 L386.1,931.3 L384.9,934.1 L383.7,936.8 L382.6,939.6 L381.4,942.4 L380.3,945.2 L379.2,948.0 L378.1,950.8 L377.1,953.6 L376.0,956.4 L375.0,959.2 L373.9,962.0 L372.9,964.8 L371.9,967.6 L370.9,970.5 L370.0,973.3 L369.0,976.1 L368.1,979.0 L367.1,981.8 L366.2,984.7 L365.3,987.5 L364.4,990.4 L363.5,993.2 L362.6,996.1 L361.8,999.0 L360.9,1001.8 L360.1,1004.7 L359.3,1007.6 L358.4,1010.4 L357.6,1013.3 L356.8,1016.2 L356.1,1019.1 L355.3,1022.0 L354.5,1024.9 L353.8,1027.8 L353.1,1030.7 L352.3,1033.6 L351.6,1036.5 L350.9,1039.4 L350.2,1042.3 L349.5,1045.2 L348.9,1048.1 L348.2,1051.0 L347.5,1054.0 L346.9,1056.9 L346.3,1059.8 L345.6,1062.7 L345.0,1065.7 L344.4,1068.6 L343.8,1071.5 L343.2,1074.4 L342.7,1077.4 L342.1,1080.3 L341.5,1083.3 L341.0,1086.2 L340.5,1089.1 L339.9,1092.1 L339.4,1095.0 L338.9,1098.0 L338.4,1100.9 L337.9,1103.9 L337.4,1106.8 L336.9,1109.8 L336.5,1112.7 L336.0,1115.7 L335.6,1118.7 L335.1,1121.6 L334.7,1124.6 L334.3,1127.5 L333.9,1130.5 L333.5,1133.5 L333.1,1136.4 L332.7,1139.4 L332.3,1142.4 L331.9,1145.3 L331.6,1148.3 L331.2,1151.3 L330.9,1154.3 L330.5,1157.2 L330.2,1160.2 L329.9,1163.2 L329.6,1166.2 L329.3,1169.2 L329.0,1172.1 L328.7,1175.1 L328.4,1178.1 L328.2,1181.1 L327.9,1184.1 L327.6,1187.1 L327.4,1190.0 L327.2,1193.0 L326.9,1196.0" fill="none" stroke="#000" stroke-width="2.35" stroke-linejoin="round"/>
<path d="M900.9,863.2 L898.5,865.0 L896.2,866.8 L893.8,868.6 L891.5,870.5 L889.1,872.4 L886.9,874.3 L884.6,876.2 L882.3,878.1 L880.1,880.1 L877.8,882.0 L875.6,884.0 L873.4,886.0 L871.2,888.0 L869.0,890.1 L866.9,892.1 L864.7,894.2 L862.6,896.2 L860.4,898.3 L858.3,900.4 L856.2,902.5 L854.1,904.6 L852.0,906.8 L849.9,908.9 L847.8,911.0 L845.8,913.2 L843.7,915.3 L841.6,917.5 L839.6,919.6 L837.5,921.8 L835.5,923.9 L833.4,926.1 L831.4,928.3 L829.3,930.4 L827.3,932.6 L825.2,934.8 L823.2,937.0 L821.1,939.1 L819.1,941.3 L817.0,943.4 L815.0,945.6 L812.9,947.8 L810.8,949.9 L808.8,952.1 L806.7,954.2 L804.6,956.4 L802.6,958.5 L800.5,960.7 L798.4,962.8 L796.4,965.0 L794.3,967.1 L792.2,969.2 L790.2,971.4 L788.1,973.5 L786.0,975.7 L784.0,977.8 L781.9,980.0 L779.8,982.1 L777.8,984.2 L775.7,986.4 L773.6,988.5 L771.6,990.7 L769.5,992.8 L767.4,995.0 L765.4,997.1 L763.3,999.3 L761.3,1001.4 L759.2,1003.6 L757.2,1005.8 L755.1,1007.9 L753.1,1010.1 L751.1,1012.3 L749.0,1014.4 L747.0,1016.6 L745.0,1018.8 L742.9,1021.0 L740.9,1023.2 L738.9,1025.4 L736.9,1027.6 L734.9,1029.7 L732.8,1031.9 L730.8,1034.1 L728.8,1036.3 L726.8,1038.5 L724.8,1040.7 L722.8,1042.9 L720.8,1045.1 L718.8,1047.4 L716.8,1049.6 L714.8,1051.8 L712.8,1054.0 L710.8,1056.2 L708.8,1058.4 L706.8,1060.6 L704.8,1062.8 L702.8,1065.0 L700.8,1067.2 L698.8,1069.4 L696.7,1071.6 L694.7,1073.8 L692.7,1076.0 L690.7,1078.2 L688.7,1080.4 L686.7,1082.6 L684.7,1084.8 L682.7,1087.0 L680.6,1089.2 L678.6,1091.4 L676.6,1093.6 L674.6,1095.8 L672.6,1098.0 L670.6,1100.2 L668.6,1102.4 L666.6,1104.6 L664.6,1106.8 L662.7,1109.1 L660.7,1111.3 L658.7,1113.5 L656.8,1115.8 L654.8,1118.0 L652.9,1120.3 L651.0,1122.6 L649.0,1124.8 L647.1,1127.1 L645.2,1129.4 L643.4,1131.7 L641.5,1134.0 L639.6,1136.4 L637.8,1138.7 L635.9,1141.0 L634.1,1143.4 L632.2,1145.7 L630.4,1148.0 L628.6,1150.4 L626.7,1152.8 L624.9,1155.1 L623.1,1157.5 L621.3,1159.9 L619.5,1162.2 L617.7,1164.6 L615.9,1167.0 L614.1,1169.4 L612.3,1171.7 L610.5,1174.1 L608.7,1176.5 L606.9,1178.9 L605.2,1181.3 L603.4,1183.7 L601.6,1186.1 L599.8,1188.4 L598.0,1190.8 L596.2,1193.2 L594.4,1195.6" fill="none" stroke="#000" stroke-width="2.35" stroke-linejoin="round"/>
<path d="M301.1,282.2L275.4,409.6M264.8,376.8L275.4,409.6L297.6,383.7" fill="none" stroke="#000" stroke-width="3.9" stroke-linejoin="round" stroke-linecap="butt"/>
<path d="M1084.5,150.3L852.1,176.7M881.0,156.6L852.1,176.7L884.8,190.5" fill="none" stroke="#000" stroke-width="3.9" stroke-linejoin="round" stroke-linecap="butt"/>
<path d="M1084.6,386.3L851.3,412.0M881.3,392.0L851.3,412.0L884.7,426.2" fill="none" stroke="#000" stroke-width="3.9" stroke-linejoin="round" stroke-linecap="butt"/>
<path d="M1058.3,621.4L825.6,647.1M855.0,627.7L825.6,647.1L859.3,660.5" fill="none" stroke="#000" stroke-width="3.9" stroke-linejoin="round" stroke-linecap="butt"/>
<path d="M744.0,962.0Q649.4,1034.7 563.3,1117.4M576.0,1083.8L563.3,1117.4L597.6,1109.8" fill="none" stroke="#000" stroke-width="3.9" stroke-linejoin="round" stroke-linecap="butt"/>
<path d="M928.7,1012.1L1005.1,858.7M977.6,878.2L1005.1,858.7L1006.7,893.6" fill="none" stroke="#000" stroke-width="3.9" stroke-linejoin="round" stroke-linecap="butt"/>
<circle cx="790.1" cy="227.1" r="12.8" fill="#000000"/>
<circle cx="792.2" cy="465.5" r="12.8" fill="#FFC000"/>
<circle cx="790.1" cy="726.7" r="12.8" fill="#FF0000"/>
<circle cx="788.0" cy="970.4" r="12.8" fill="#00B050"/>
<circle cx="789.8" cy="1188.1" r="12.8" fill="#0070C0"/>
<circle cx="1074.6" cy="679.8" r="12.8" fill="#000000"/>
<text transform="translate(206,1213.0) scale(1,1.035)" font-size="56" text-anchor="end" class="t">0.0</text>
<text transform="translate(206,1071.8) scale(1,1.035)" font-size="56" text-anchor="end" class="t">0.2</text>
<text transform="translate(206,930.5) scale(1,1.035)" font-size="56" text-anchor="end" class="t">0.4</text>
<text transform="translate(206,789.2) scale(1,1.035)" font-size="56" text-anchor="end" class="t">0.6</text>
<text transform="translate(206,648.0) scale(1,1.035)" font-size="56" text-anchor="end" class="t">0.8</text>
<text transform="translate(206,506.8) scale(1,1.035)" font-size="56" text-anchor="end" class="t">1.0</text>
<text transform="translate(206,365.5) scale(1,1.035)" font-size="56" text-anchor="end" class="t">1.2</text>
<text transform="translate(206,224.2) scale(1,1.035)" font-size="56" text-anchor="end" class="t">1.4</text>
<text transform="translate(206,83.0) scale(1,1.035)" font-size="56" text-anchor="end" class="t">1.6</text>
<text transform="translate(268.4,1279.4) scale(1,1.035)" font-size="56" text-anchor="middle" class="t">-1500</text>
<text transform="translate(442.3,1279.4) scale(1,1.035)" font-size="56" text-anchor="middle" class="t">-1000</text>
<text transform="translate(616.2,1279.4) scale(1,1.035)" font-size="56" text-anchor="middle" class="t">-500</text>
<text transform="translate(790.2,1279.4) scale(1,1.035)" font-size="56" text-anchor="middle" class="t">0</text>
<text transform="translate(964.2,1279.4) scale(1,1.035)" font-size="56" text-anchor="middle" class="t">500</text>
<text transform="translate(1138.1,1279.4) scale(1,1.035)" font-size="56" text-anchor="middle" class="t">1000</text>
<text transform="translate(1312.1,1279.4) scale(1,1.035)" font-size="56" text-anchor="middle" class="t">1500</text>
<text transform="translate(1486.0,1279.4) scale(1,1.035)" font-size="56" text-anchor="middle" class="t">2000</text>
<text transform="translate(1660.0,1279.4) scale(1,1.035)" font-size="56" text-anchor="middle" class="t">2500</text>
<text transform="translate(576,1366) scale(0.995,1.025)" font-size="56" class="t">Magnetic field, <tspan font-style="italic">H</tspan> (kA/m)</text>
<text transform="translate(87.5,988.5) rotate(-90) scale(1,1.025)" font-size="56" class="t">Magnetization, μ<tspan font-size="40.5" dx="-5.5" dy="14">0</tspan><tspan font-style="italic" dy="-14">M</tspan><tspan letter-spacing="1.5"> (T)</tspan></text>
<text transform="translate(732.6,175.4) scale(0.975,1.055)" font-size="84" font-weight="bold" text-anchor="middle" fill="#000000" class="b">E</text>
<text transform="translate(734.6,428.5) scale(0.99,1.055)" font-size="84" font-weight="bold" text-anchor="middle" fill="#FFC000" class="b">D</text>
<text transform="translate(734.2,690.0) scale(0.965,1.055)" font-size="84" font-weight="bold" text-anchor="middle" fill="#FF0000" class="b">C</text>
<text transform="translate(735.2,925.7) scale(0.985,1.055)" font-size="84" font-weight="bold" text-anchor="middle" fill="#00B050" class="b">B</text>
<text transform="translate(736.6,1134.7) scale(1.04,1.055)" font-size="84" font-weight="bold" text-anchor="middle" fill="#0070C0" class="b">A</text>
<text transform="translate(1093.5,743.5) scale(1.04,1.03)" font-size="84" font-weight="bold" font-style="italic" class="b">J</text>
<text transform="translate(1138.5,766) scale(1,1.035)" font-size="56" font-weight="bold" class="b">0</text>
</svg>
</body></html>
